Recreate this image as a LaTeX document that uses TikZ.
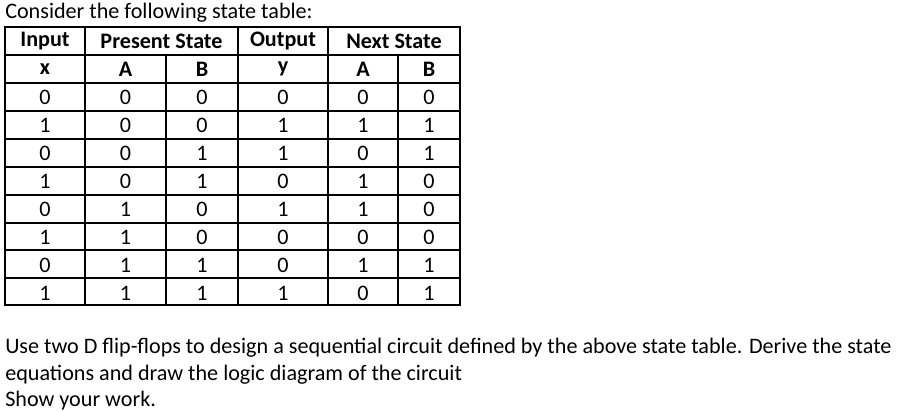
\documentclass[tikz,border=0pt]{standalone}
\usepackage{fontspec}
\setmainfont{Carlito}
\begin{document}
\begin{tikzpicture}[x=0.75pt, y=-0.75pt,
    every node/.style={font=\fontsize{16.6pt}{20pt}\selectfont, inner sep=0pt},
    head/.style={font=\fontsize{16.6pt}{20pt}\selectfont\bfseries},
    grid/.style={line width=0.8pt}
  ]
  \useasboundingbox (0,0) rectangle (898,411);
  % Title
  \node[anchor=west] (title) at (5,13) {Consider the following state table:};
  % Table lines
  \draw[grid] (5,27) rectangle (460,305);
  \foreach \y in {55,83,111,139,167,195,223,250,278}
    \draw[grid] (5,\y) -- (460,\y);
  \foreach \x in {85,238,328}
    \draw[grid] (\x,27) -- (\x,305);
  \foreach \x in {166,398}
    \draw[grid] (\x,55) -- (\x,305);
  % Header
  \node[head] (hin) at (45,41) {Input};
  \node[head] (hps) at (161.5,41) {Present State};
  \node[head] (hout) at (283,41) {Output};
  \node[head] (hns) at (394,41) {Next State};
  % Column centres
  \def\cols{45,125.5,202,283,363,429}
  \foreach \t [count=\i] in {x,A,B,y,A,B}{
    \pgfmathsetmacro{\cx}{{\cols}[\i-1]}
    \node[head] (sub\i) at (\cx,69) {\t};
  }
  % Rows
  \foreach \r [count=\j] in {{0,0,0,0,0,0},{1,0,0,1,1,1},{0,0,1,1,0,1},{1,0,1,0,1,0},
                             {0,1,0,1,1,0},{1,1,0,0,0,0},{0,1,1,0,1,1},{1,1,1,1,0,1}}{
    \pgfmathsetmacro{\cy}{69+28*\j}
    \foreach \v [count=\i] in \r{
      \pgfmathsetmacro{\cx}{{\cols}[\i-1]}
      \node (c\j\i) at (\cx,\cy) {\v};
    }
  }
  % Question
  \node[anchor=west] (q1) at (5,348) {Use two D flip-flops to design a sequential circuit defined by the above state table. Derive the state};
  \node[anchor=west] (q2) at (5,375) {equations and draw the logic diagram of the circuit};
  \node[anchor=west] (q3) at (5,401) {Show your work.};
\end{tikzpicture}
\end{document}
